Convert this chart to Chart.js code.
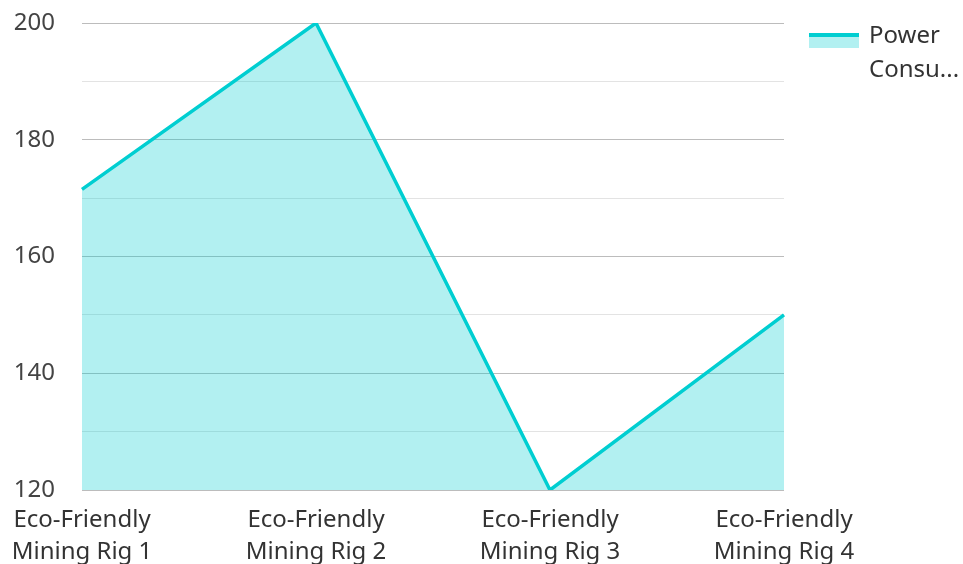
<!DOCTYPE html>
<html>
<head>
<meta charset="utf-8">
<script src="https://cdn.jsdelivr.net/npm/chart.js@4.4.1/dist/chart.umd.min.js"></script>
<style>
  html, body { margin: 0; padding: 0; background: #fff; }
  #wrap { width: 963px; height: 564px; }
</style>
</head>
<body>
<div id="wrap"><canvas id="canvas" width="963" height="564"></canvas></div>
<script>
'use strict';

var rigNames = [
    ['Eco-Friendly', 'Mining Rig 1'],
    ['Eco-Friendly', 'Mining Rig 2'],
    ['Eco-Friendly', 'Mining Rig 3'],
    ['Eco-Friendly', 'Mining Rig 4']
];
var powerValues = [171.5, 200, 120, 150];
var seriesName = 'Power Consumption';
var legendLines = ['Power', 'Consu...'];

var lineColor = '#00CED1';
var fillColor = 'rgba(0,206,209,0.3)';
var fontName = '"Noto Sans", "Open Sans", sans-serif';

// legend drawn by hand: line swatch with fill under it, text wrapped/truncated
var sideLegend = {
    id: 'sideLegend',
    afterDraw: function (chart) {
        var ctx = chart.ctx;
        ctx.save();
        ctx.fillStyle = fillColor;
        ctx.fillRect(809, 35, 50, 13);
        ctx.fillStyle = lineColor;
        ctx.fillRect(809, 33, 50, 4);
        ctx.fillStyle = '#333';
        ctx.font = '24px ' + fontName;
        ctx.textBaseline = 'middle';
        ctx.textAlign = 'left';
        for (var i = 0; i < legendLines.length; i++) {
            ctx.fillText(legendLines[i], 869, 36 + i * 34);
        }
        ctx.restore();
    }
};

var ctx = document.getElementById('canvas').getContext('2d');
var myChart = new Chart(ctx, {
    type: 'line',
    data: {
        labels: rigNames,
        datasets: [{
            label: seriesName,
            data: powerValues,
            borderColor: lineColor,
            backgroundColor: fillColor,
            borderWidth: 3.5,
            fill: 'start',
            pointRadius: 0,
            pointHoverRadius: 0,
            tension: 0
        }]
    },
    options: {
        responsive: false,
        animation: false,
        layout: {
            padding: { top: 23, right: 179, left: 0, bottom: 0 }
        },
        plugins: {
            legend: { display: false },
            tooltip: { enabled: false }
        },
        scales: {
            x: {
                offset: false,
                border: { display: false },
                grid: { display: false, drawTicks: false },
                ticks: {
                    color: '#333',
                    padding: 14,
                    maxRotation: 0,
                    autoSkip: false,
                    font: { family: fontName, size: 24, lineHeight: 1.33 }
                },
                afterFit: function (scale) {
                    scale.height = 74;
                    scale.paddingLeft = 0;
                    scale.paddingRight = 0;
                }
            },
            y: {
                min: 120,
                max: 200,
                border: { display: false },
                grid: {
                    drawTicks: true,
                    tickLength: 27,
                    tickColor: 'rgba(0,0,0,0)',
                    lineWidth: 1,
                    color: function (c) {
                        return c.tick && c.tick.value % 20 === 0 ? '#bcbcbc' : '#e3e3e3';
                    }
                },
                ticks: {
                    stepSize: 10,
                    color: '#444',
                    padding: 0,
                    font: { family: fontName, size: 24 },
                    callback: function (v) { return v % 20 === 0 ? v : ''; }
                },
                afterFit: function (scale) { scale.width = 82; }
            }
        }
    },
    plugins: [sideLegend]
});
</script>
</body>
</html>
